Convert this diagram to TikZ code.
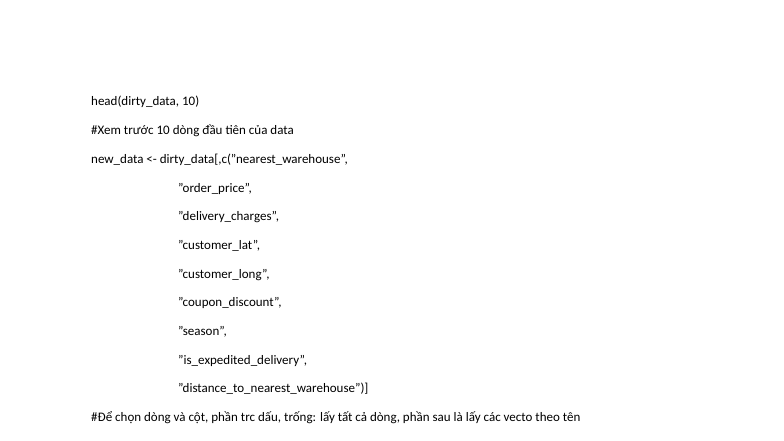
\documentclass[tikz,border=0pt]{standalone}
\usepackage{fontspec}
\setmainfont{Carlito}
\begin{document}
\begin{tikzpicture}[x=1pt,y=1pt,ln/.style={anchor=base west,inner sep=0pt,font=\fontsize{13}{15}\selectfont}]
\useasboundingbox (0,0) rectangle (784,441);
\node[ln] (l1) at (91,335) {head(dirty\_data, 10)};
\node[ln] (l2) at (91,306.3) {\#Xem trước 10 dòng đầu tiên của data};
\node[ln] (l3) at (91,277.6) {new\_data <- dirty\_data[,c("nearest\_warehouse",};
\node[ln] (l4) at (178,248.9) {"order\_price",};
\node[ln] (l5) at (178,220.2) {"delivery\_charges",};
\node[ln] (l6) at (178,191.5) {"customer\_lat",};
\node[ln] (l7) at (178,162.8) {"customer\_long",};
\node[ln] (l8) at (178,134.1) {"coupon\_discount",};
\node[ln] (l9) at (178,105.4) {"season",};
\node[ln] (l10) at (178,76.7) {"is\_expedited\_delivery",};
\node[ln] (l11) at (178,48) {"distance\_to\_nearest\_warehouse")]};
\node[ln] (l12) at (91,19.3) {\#Để chọn dòng và cột, phần trc dấu, trống: lấy tất cả dòng, phần sau là lấy các vecto theo tên};
\end{tikzpicture}
\end{document}
